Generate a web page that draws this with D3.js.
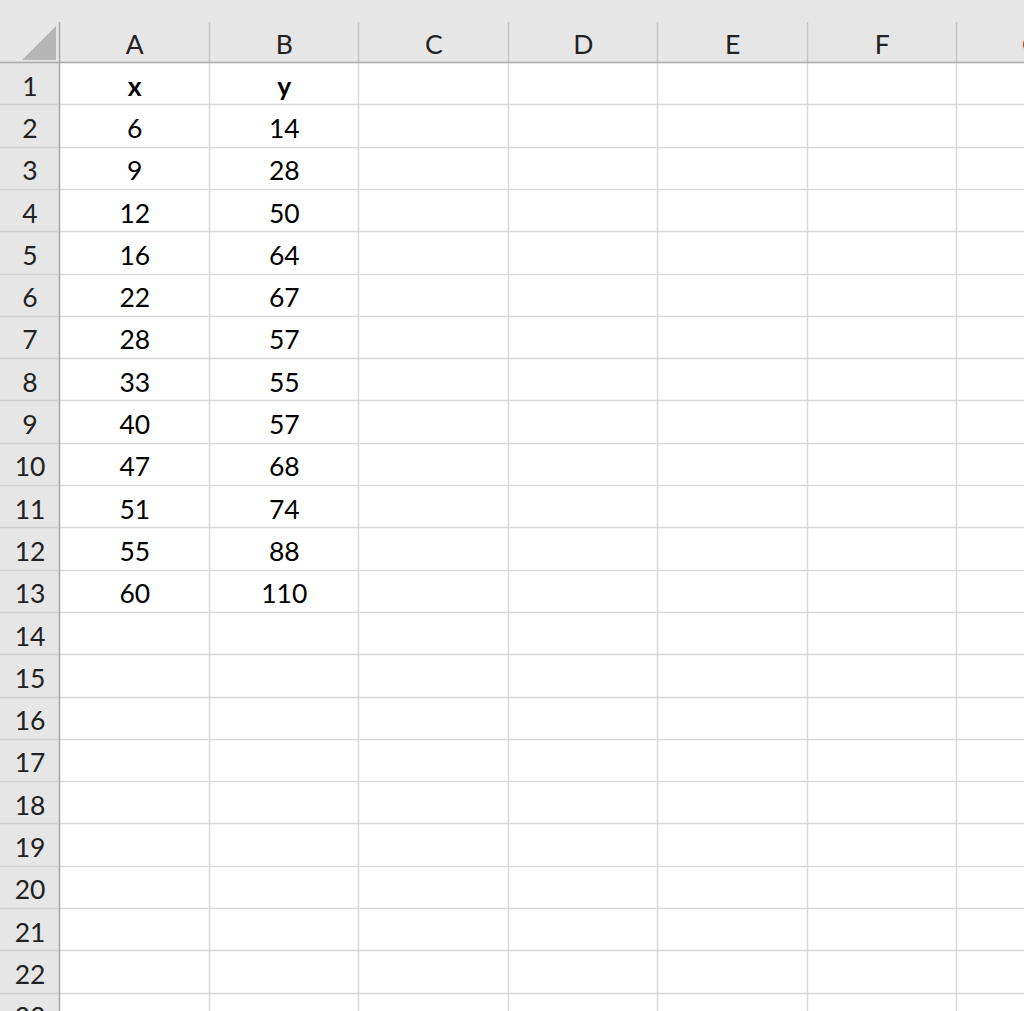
<!DOCTYPE html>
<html><head><meta charset="utf-8">
<script src="https://cdn.jsdelivr.net/npm/d3@7/dist/d3.min.js"></script>
<style>html,body{margin:0;padding:0;background:#fff;overflow:hidden}</style>
</head><body>
<svg id="c" width="1024" height="1011"></svg>
<script>
const columns = ["A","B","C","D","E","F","G"];
const rowNumbers = d3.range(1, 24);
const headers = ["x","y"];
const xValues = [6,9,12,16,22,28,33,40,47,51,55,60];
const yValues = [14,28,50,64,67,57,55,57,68,74,88,110];

(function(){
const W = 1024, H = 1011;
const gridLeft = 60, gridTop = 63, colW = 149.5, rowH = 42.3;
const svg = d3.select("#c");
const font = "Lato, 'Open Sans', sans-serif";
const fs = 26.5, dy = 11.5;

const xs = d3.scaleBand().domain(columns).range([gridLeft, gridLeft + colW*columns.length]).padding(0);
const ys = d3.scaleBand().domain(rowNumbers).range([gridTop, gridTop + rowH*rowNumbers.length]).padding(0);

svg.append("rect").attr("width",W).attr("height",H).attr("fill","#ffffff");
svg.append("rect").attr("width",W).attr("height",gridTop).attr("fill","#e6e6e6");
svg.append("rect").attr("width",gridLeft).attr("height",H).attr("fill","#e6e6e6");

const g = svg.append("g");
columns.forEach(c => {
  const x = Math.round(xs(c) + xs.bandwidth()) - 0.5;
  g.append("line").attr("x1",x).attr("x2",x).attr("y1",gridTop).attr("y2",H).attr("stroke","#d9d9d9").attr("stroke-width",1.5);
  g.append("line").attr("x1",x).attr("x2",x).attr("y1",22).attr("y2",gridTop).attr("stroke","#c4c4c4").attr("stroke-width",1.5);
});
rowNumbers.forEach(r => {
  const y = Math.round(ys(r) + ys.bandwidth()) - 0.5;
  g.append("line").attr("x1",gridLeft).attr("x2",W).attr("y1",y).attr("y2",y).attr("stroke","#d9d9d9").attr("stroke-width",1.5);
  g.append("line").attr("x1",0).attr("x2",gridLeft).attr("y1",y).attr("y2",y).attr("stroke","#cfcfcf").attr("stroke-width",1.5);
});

svg.append("line").attr("x1",0).attr("x2",W).attr("y1",gridTop-0.5).attr("y2",gridTop-0.5).attr("stroke","#a9a9a9").attr("stroke-width",1.5);
svg.append("line").attr("x1",gridLeft-0.5).attr("x2",gridLeft-0.5).attr("y1",22).attr("y2",H).attr("stroke","#a9a9a9").attr("stroke-width",1.5);

svg.append("path").attr("d","M22,60 L56,60 L56,26 Z").attr("fill","#b5b5b5");

svg.append("g").selectAll("text").data(columns).join("text")
  .attr("x", d => xs(d) + xs.bandwidth()/2).attr("y", 54)
  .attr("text-anchor","middle").attr("font-family",font).attr("font-size",fs)
  .attr("fill","#222").text(d => d);

svg.append("g").selectAll("text").data(rowNumbers).join("text")
  .attr("x", 30).attr("y", d => ys(d) + ys.bandwidth()/2 + dy)
  .attr("text-anchor","middle").attr("font-family",font).attr("font-size",fs)
  .attr("fill","#222").text(d => d);

svg.append("g").selectAll("text").data(headers).join("text")
  .attr("x", (d,i) => xs(columns[i]) + xs.bandwidth()/2).attr("y", ys(1) + ys.bandwidth()/2 + dy)
  .attr("text-anchor","middle").attr("font-family",font).attr("font-size",fs).attr("font-weight","bold")
  .attr("fill","#000").text(d => d);

[xValues, yValues].forEach((vals, ci) => {
  svg.append("g").selectAll("text").data(vals).join("text")
    .attr("x", xs(columns[ci]) + xs.bandwidth()/2)
    .attr("y", (d,i) => ys(i+2) + ys.bandwidth()/2 + dy)
    .attr("text-anchor","middle").attr("font-family",font).attr("font-size",fs)
    .attr("fill","#000").text(d => d);
});
})();
</script>
</body></html>
